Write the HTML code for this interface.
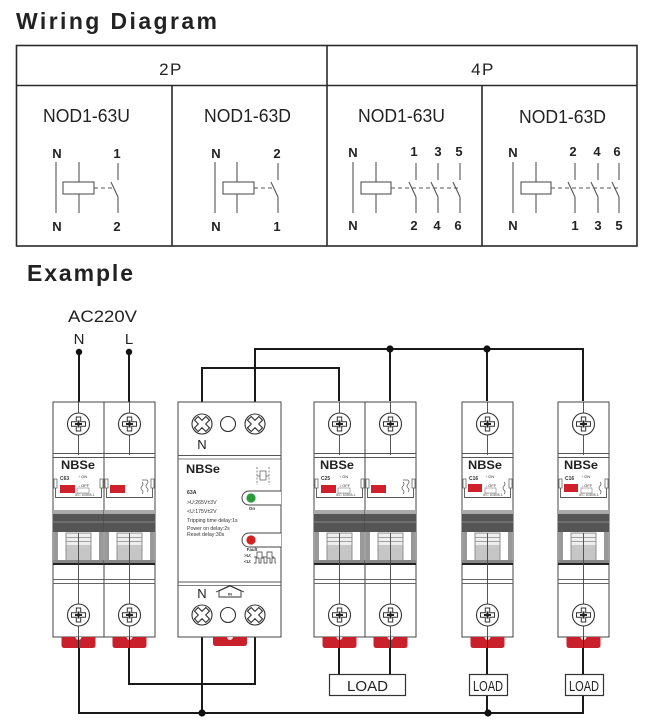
<!DOCTYPE html>
<html><head><meta charset="utf-8"><style>
html,body{margin:0;padding:0;background:#fff;}
body{width:650px;height:728px;overflow:hidden;}
svg{display:block;font-family:"Liberation Sans",Arial,sans-serif;}
</style></head><body>
<svg width="650" height="728" viewBox="0 0 650 728" xmlns="http://www.w3.org/2000/svg">
<rect width="650" height="728" fill="#fff"/>
<defs>
  <g id="pscrew">
    <circle cx="0" cy="0" r="11" fill="#fff" stroke="#333" stroke-width="1.1"/>
    <path d="M-7,-2.2 H-2.2 V-7 H2.2 V-2.2 H7 V2.2 H2.2 V7 H-2.2 V2.2 H-7 Z" fill="#fff" stroke="#333" stroke-width="1"/>
    <rect x="-3.5" y="-1" width="7" height="2" fill="#222"/>
    <rect x="-1" y="-3.5" width="2" height="7" fill="#222"/>
  </g>
  <g id="xscrew">
    <circle cx="0" cy="0" r="10" fill="#fff" stroke="#333" stroke-width="1.1"/>
    <path transform="rotate(45)" d="M-8,-2.6 H-2.6 V-8 H2.6 V-2.6 H8 V2.6 H2.6 V8 H-2.6 V2.6 H-8 Z" fill="#fff" stroke="#333" stroke-width="1.1" stroke-linejoin="round"/>
  </g>
  <g id="pole">
    <rect x="0" y="402" width="51" height="235" fill="#fff" stroke="#444" stroke-width="1"/>
    <line x1="25.5" y1="402" x2="25.5" y2="455" stroke="#444" stroke-width="0.9"/>
    <line x1="0" y1="453.5" x2="51" y2="453.5" stroke="#555" stroke-width="1"/>
    <line x1="0" y1="457.5" x2="51" y2="457.5" stroke="#555" stroke-width="1"/>
    <path d="M2.5,481 V497.5 H48.5 V481" fill="none" stroke="#555" stroke-width="0.9"/>
    <rect x="1" y="479" width="3" height="9" fill="#fff" stroke="#555" stroke-width="0.7"/>
    <rect x="47" y="479" width="3" height="9" fill="#fff" stroke="#555" stroke-width="0.7"/>
    <rect x="0" y="510" width="51" height="4" fill="#aaa"/>
    <rect x="0" y="514" width="51" height="18" fill="#555"/>
    <line x1="0" y1="522" x2="51" y2="522" stroke="#888" stroke-width="1"/>
    <rect x="1" y="532" width="4" height="28" fill="#999"/>
    <rect x="46" y="532" width="4" height="28" fill="#999"/>
    <rect x="13" y="533" width="25" height="27" fill="#eee" stroke="#777" stroke-width="0.8"/>
    <rect x="13.5" y="545" width="24" height="15" fill="#c6c6c6"/>
    <line x1="13" y1="537.5" x2="38" y2="537.5" stroke="#888" stroke-width="0.8"/>
    <line x1="13" y1="541.5" x2="38" y2="541.5" stroke="#888" stroke-width="0.8"/>
    <rect x="0" y="560" width="51" height="3" fill="#888"/>
    <line x1="0" y1="564" x2="51" y2="564" stroke="#222" stroke-width="2"/>
    <line x1="0" y1="579.5" x2="51" y2="579.5" stroke="#666" stroke-width="1"/>
    <line x1="0" y1="583.5" x2="51" y2="583.5" stroke="#666" stroke-width="1"/>
    <line x1="25.5" y1="533" x2="25.5" y2="637" stroke="#444" stroke-width="0.9"/>
    <use href="#pscrew" x="25.5" y="424"/>
    <use href="#pscrew" x="25.5" y="615"/>
    <path d="M8.5,637 H42.5 V645 Q42.5,648 39.5,648 H11.5 Q8.5,648 8.5,645 Z" fill="#c9202c"/>
    <path d="M22.5,637 A3,3 0 0 0 28.5,637 Z" fill="#f2dede"/>
    <line x1="25.5" y1="637" x2="25.5" y2="648" stroke="#222" stroke-width="1"/>
  </g>
  <g id="lab1">
    <text x="8" y="469" font-size="12" font-weight="bold" fill="#222" textLength="34" lengthAdjust="spacingAndGlyphs">NBSe</text>
    <text x="7" y="480" font-size="5" font-weight="bold" fill="#333">C63</text>
    <rect x="7" y="485" width="15" height="8" fill="#d0202c"/>
    <text x="25" y="478" font-size="4" fill="#333">↑ ON</text>
    <text x="25" y="487" font-size="4" fill="#333">↓ OFF</text>
    <rect x="24" y="488" width="12" height="5" fill="none" stroke="#666" stroke-width="0.5"/>
    <text x="22" y="496" font-size="3.5" fill="#555">IEC 60898-1</text>
  </g>
  <g id="lab2">
    <rect x="6" y="485" width="15" height="8" fill="#d0202c"/>
    <path d="M38,482 q2,2 0,4 q-2,2 0,4 q2,2 0,4 M43,480 q2,2 0,4 q-2,2 0,4 q2,2 0,4 M38,480 h5" fill="none" stroke="#555" stroke-width="0.7"/>
  </g>
</defs>

<!-- Title -->
<text x="16" y="29" font-size="23" font-weight="bold" fill="#222" letter-spacing="2.4">Wiring Diagram</text>

<!-- Table -->
<g stroke="#2a2a2a" stroke-width="1.6" fill="none">
  <rect x="16.5" y="45.5" width="620.5" height="200.5"/>
  <line x1="16.5" y1="85.5" x2="637" y2="85.5"/>
  <line x1="327" y1="45.5" x2="327" y2="246"/>
  <line x1="172" y1="85.5" x2="172" y2="246"/>
  <line x1="482" y1="85.5" x2="482" y2="246"/>
</g>
<text x="171" y="75" font-size="17" fill="#222" text-anchor="middle" letter-spacing="1.5">2P</text>
<text x="483" y="75" font-size="17" fill="#222" text-anchor="middle" letter-spacing="1.5">4P</text>
<text x="43" y="122" font-size="18" fill="#222" textLength="87" lengthAdjust="spacingAndGlyphs">NOD1-63U</text>
<text x="204" y="122" font-size="18" fill="#222" textLength="87" lengthAdjust="spacingAndGlyphs">NOD1-63D</text>
<text x="358" y="122" font-size="18" fill="#222" textLength="87" lengthAdjust="spacingAndGlyphs">NOD1-63U</text>
<text x="519" y="123" font-size="18" fill="#222" textLength="87" lengthAdjust="spacingAndGlyphs">NOD1-63D</text>

<!-- Schematics -->
<g stroke="#555" stroke-width="1.1" fill="none">
  <!-- col1 -->
  <line x1="56" y1="162" x2="56" y2="213"/>
  <line x1="79" y1="162" x2="79" y2="213"/>
  <rect x="63" y="182" width="31" height="12" fill="#fff"/>
  <line x1="94" y1="188" x2="112" y2="188" stroke-dasharray="4 3"/>
  <line x1="118" y1="163" x2="118" y2="180"/>
  <line x1="111" y1="182" x2="118" y2="197"/>
  <line x1="118" y1="197" x2="118" y2="213"/>
  <!-- col2 -->
  <line x1="215" y1="162" x2="215" y2="213"/>
  <line x1="237" y1="162" x2="237" y2="213"/>
  <rect x="223" y="182" width="31" height="12" fill="#fff"/>
  <line x1="254" y1="188" x2="272" y2="188" stroke-dasharray="4 3"/>
  <line x1="278" y1="163" x2="278" y2="180"/>
  <line x1="271" y1="182" x2="278" y2="197"/>
  <line x1="278" y1="197" x2="278" y2="213"/>
  <!-- col3 -->
  <line x1="353" y1="162" x2="353" y2="213"/>
  <line x1="376" y1="162" x2="376" y2="213"/>
  <rect x="361" y="182" width="30" height="12" fill="#fff"/>
  <line x1="391" y1="188" x2="460" y2="188" stroke-dasharray="4 3"/>
  <line x1="416" y1="163" x2="416" y2="180"/><line x1="409" y1="182" x2="416" y2="197"/><line x1="416" y1="197" x2="416" y2="213"/>
  <line x1="438" y1="163" x2="438" y2="180"/><line x1="431" y1="182" x2="438" y2="197"/><line x1="438" y1="197" x2="438" y2="213"/>
  <line x1="460" y1="163" x2="460" y2="180"/><line x1="453" y1="182" x2="460" y2="197"/><line x1="460" y1="197" x2="460" y2="213"/>
  <!-- col4 -->
  <line x1="513" y1="162" x2="513" y2="213"/>
  <line x1="536" y1="162" x2="536" y2="213"/>
  <rect x="521" y="182" width="30" height="12" fill="#fff"/>
  <line x1="551" y1="188" x2="619" y2="188" stroke-dasharray="4 3"/>
  <line x1="575" y1="163" x2="575" y2="180"/><line x1="568" y1="182" x2="575" y2="197"/><line x1="575" y1="197" x2="575" y2="213"/>
  <line x1="598" y1="163" x2="598" y2="180"/><line x1="591" y1="182" x2="598" y2="197"/><line x1="598" y1="197" x2="598" y2="213"/>
  <line x1="619" y1="163" x2="619" y2="180"/><line x1="612" y1="182" x2="619" y2="197"/><line x1="619" y1="197" x2="619" y2="213"/>
</g>
<g font-size="13" font-weight="bold" fill="#222" text-anchor="middle">
  <text x="57" y="158">N</text><text x="117" y="158">1</text>
  <text x="57" y="231">N</text><text x="117" y="231">2</text>
  <text x="216" y="158">N</text><text x="277" y="158">2</text>
  <text x="216" y="231">N</text><text x="277" y="231">1</text>
  <text x="353" y="157">N</text><text x="414" y="156">1</text><text x="438" y="156">3</text><text x="459" y="156">5</text>
  <text x="353" y="230">N</text><text x="414" y="230">2</text><text x="437" y="230">4</text><text x="458" y="230">6</text>
  <text x="513" y="157">N</text><text x="573" y="156">2</text><text x="597" y="156">4</text><text x="617" y="156">6</text>
  <text x="513" y="230">N</text><text x="575" y="230">1</text><text x="598" y="230">3</text><text x="619" y="230">5</text>
</g>

<!-- Example -->
<text x="27" y="281" font-size="23" font-weight="bold" fill="#222" letter-spacing="1.9">Example</text>
<text x="68" y="322" font-size="17" fill="#222" textLength="69" lengthAdjust="spacingAndGlyphs">AC220V</text>
<text x="79" y="344" font-size="15" fill="#222" text-anchor="middle">N</text>
<text x="129" y="344" font-size="15" fill="#222" text-anchor="middle">L</text>

<!-- Wires -->
<g stroke="#1a1a1a" stroke-width="2" fill="none" stroke-linejoin="miter">
  <line x1="79" y1="352" x2="79" y2="402"/>
  <line x1="129" y1="352" x2="129" y2="402"/>
  <polyline points="202,402 202,368 339,368 339,401"/>
  <polyline points="255,402 255,349 583,349 583,401"/>
  <line x1="390" y1="349" x2="390" y2="401"/>
  <line x1="487" y1="349" x2="487" y2="401"/>
  <polyline points="79,647 79,713 583,713 583,695"/>
  <polyline points="129,647 129,684 255,684 255,637"/>
  <line x1="202" y1="637" x2="202" y2="713"/>
  <line x1="339" y1="647" x2="339" y2="674"/>
  <line x1="390" y1="647" x2="390" y2="674"/>
  <line x1="487" y1="647" x2="487" y2="674"/>
  <line x1="583" y1="647" x2="583" y2="674"/>
  <line x1="487" y1="695" x2="487" y2="713"/>
</g>
<g fill="#111">
  <circle cx="79" cy="352" r="3.2"/>
  <circle cx="129" cy="352" r="3.2"/>
  <circle cx="390" cy="349" r="3.6"/>
  <circle cx="487" cy="349" r="3.6"/>
  <circle cx="202" cy="713" r="3.6"/>
  <circle cx="488" cy="713" r="3.6"/>
</g>

<!-- Left 2P breaker -->
<use href="#pole" x="53" y="0"/>
<use href="#pole" x="104" y="0"/>
<use href="#lab1" x="53" y="0"/>
<use href="#lab2" x="104" y="0"/>

<!-- Right 2P breaker -->
<use href="#pole" x="314" y="0"/>
<use href="#pole" x="365" y="0"/>
<g transform="translate(314,0)">
  <text x="6" y="469" font-size="12" font-weight="bold" fill="#222" textLength="34" lengthAdjust="spacingAndGlyphs">NBSe</text>
  <text x="7" y="480" font-size="5" font-weight="bold" fill="#333">C25</text>
  <rect x="7" y="485" width="15" height="8" fill="#d0202c"/>
  <text x="25" y="478" font-size="4" fill="#333">↑ ON</text>
  <text x="25" y="487" font-size="4" fill="#333">↓ OFF</text>
  <rect x="24" y="488" width="12" height="5" fill="none" stroke="#666" stroke-width="0.5"/>
  <text x="22" y="496" font-size="3.5" fill="#555">IEC 60898-1</text>
</g>
<use href="#lab2" x="365" y="0"/>

<!-- 1P breakers -->
<use href="#pole" x="462" y="0"/>
<use href="#pole" x="558" y="0"/>
<g transform="translate(462,0)">
  <text x="6" y="469" font-size="12" font-weight="bold" fill="#222" textLength="34" lengthAdjust="spacingAndGlyphs">NBSe</text>
  <text x="7" y="480" font-size="5" font-weight="bold" fill="#333">C16</text>
  <rect x="6" y="484" width="14" height="8" fill="#d0202c"/>
  <text x="23" y="478" font-size="4" fill="#333">↑ ON</text>
  <text x="23" y="487" font-size="4" fill="#333">↓ OFF</text>
  <rect x="23" y="488" width="11" height="5" fill="none" stroke="#666" stroke-width="0.5"/>
  <text x="21" y="496" font-size="3.5" fill="#555">IEC 60898-1</text>
  <path d="M42,482 q2,2 0,4 q-2,2 0,4 q2,2 0,4" fill="none" stroke="#555" stroke-width="0.7"/>
</g>
<g transform="translate(558,0)">
  <text x="6" y="469" font-size="12" font-weight="bold" fill="#222" textLength="34" lengthAdjust="spacingAndGlyphs">NBSe</text>
  <text x="7" y="480" font-size="5" font-weight="bold" fill="#333">C16</text>
  <rect x="6" y="484" width="14" height="8" fill="#d0202c"/>
  <text x="23" y="478" font-size="4" fill="#333">↑ ON</text>
  <text x="23" y="487" font-size="4" fill="#333">↓ OFF</text>
  <rect x="23" y="488" width="11" height="5" fill="none" stroke="#666" stroke-width="0.5"/>
  <text x="21" y="496" font-size="3.5" fill="#555">IEC 60898-1</text>
  <path d="M42,482 q2,2 0,4 q-2,2 0,4 q2,2 0,4" fill="none" stroke="#555" stroke-width="0.7"/>
</g>

<!-- Time relay device -->
<rect x="178" y="402" width="103" height="235" fill="#fff" stroke="#444" stroke-width="1"/>
<line x1="178" y1="455.5" x2="281" y2="455.5" stroke="#555" stroke-width="1"/>
<line x1="178" y1="459" x2="281" y2="459" stroke="#555" stroke-width="0.8"/>
<line x1="178" y1="582" x2="281" y2="582" stroke="#555" stroke-width="1"/>
<line x1="178" y1="585.5" x2="281" y2="585.5" stroke="#555" stroke-width="0.8"/>
<use href="#xscrew" x="202" y="424"/>
<circle cx="228" cy="424" r="7.5" fill="#fff" stroke="#333" stroke-width="1.1"/>
<use href="#xscrew" x="255" y="424"/>
<text x="202" y="449" font-size="13" fill="#222" text-anchor="middle">N</text>
<text x="186" y="473" font-size="12" font-weight="bold" fill="#222" textLength="34" lengthAdjust="spacingAndGlyphs">NBSe</text>
<g stroke="#555" stroke-width="0.7" fill="none">
  <line x1="257" y1="467" x2="257" y2="485" stroke-dasharray="2 1.5"/>
  <line x1="269" y1="467" x2="269" y2="485" stroke-dasharray="2 1.5"/>
  <rect x="260" y="471" width="6" height="9"/>
  <line x1="257" y1="476" x2="260" y2="476"/>
  <line x1="266" y1="476" x2="269" y2="476"/>
</g>
<g font-size="5.2" fill="#333">
  <text x="187" y="494" font-weight="bold">63A</text>
  <text x="187" y="504">&gt;U:265V±3V</text>
  <text x="187" y="513">&lt;U:175V±2V</text>
  <text x="187" y="522">Tripping time delay:1s</text>
  <text x="187" y="530">Power on delay:2s</text>
  <text x="187" y="536">Reset delay:30s</text>
</g>
<path d="M281,491 H249 A7,7 0 0 0 249,505 H281" fill="#fff" stroke="#444" stroke-width="1"/>
<circle cx="251" cy="498" r="4.6" fill="#2a9a3a"/>
<text x="252" y="510" font-size="4.5" font-weight="bold" fill="#333" text-anchor="middle">On</text>
<path d="M281,533 H249 A7,7 0 0 0 249,547 H281" fill="#fff" stroke="#444" stroke-width="1"/>
<circle cx="251" cy="540" r="4.6" fill="#d42020"/>
<text x="252" y="551" font-size="4.5" font-weight="bold" fill="#333" text-anchor="middle">Fault</text>
<text x="244" y="557" font-size="4.5" font-weight="bold" fill="#333">&gt;U:</text>
<text x="244" y="563" font-size="4.5" font-weight="bold" fill="#333">&lt;U:</text>
<path d="M254,557 h3 v-5 h5 v5 h5 v-5 h5 v5 h2" fill="none" stroke="#333" stroke-width="0.7"/>
<path d="M254,563 h2 v-5 h3 v5 h2 v-5 h3 v5 h3 v-5 h3 v5 h2 v-5 h3 v5 h1" fill="none" stroke="#333" stroke-width="0.7"/>
<text x="202" y="598" font-size="13" fill="#222" text-anchor="middle">N</text>
<path d="M219,597 V591 L230,586 L241,591 V597 Z" fill="#fff" stroke="#333" stroke-width="0.9"/>
<path d="M216,592 L230,585.5 L244,592" fill="none" stroke="#333" stroke-width="0.9"/>
<text x="230" y="595.5" font-size="4" font-weight="bold" fill="#333" text-anchor="middle">IN</text>
<use href="#xscrew" x="202" y="615"/>
<circle cx="228" cy="615" r="7.5" fill="#fff" stroke="#333" stroke-width="1.1"/>
<use href="#xscrew" x="255" y="615"/>
<path d="M213,637 H247 V643 Q247,646 244,646 H216 Q213,646 213,643 Z" fill="#c9202c"/>
<path d="M227,637 A3,3 0 0 0 233,637 Z" fill="#f2dede"/>

<!-- LOAD boxes -->
<g fill="#fff" stroke="#333" stroke-width="1.2">
  <rect x="329.5" y="674.5" width="76" height="21"/>
  <rect x="469.5" y="674.5" width="38" height="21"/>
  <rect x="565.5" y="674.5" width="38" height="21"/>
</g>
<g font-size="15" fill="#222">
  <text x="347" y="691" textLength="41" lengthAdjust="spacingAndGlyphs">LOAD</text>
  <text x="473" y="691" textLength="30" lengthAdjust="spacingAndGlyphs">LOAD</text>
  <text x="569" y="691" textLength="30" lengthAdjust="spacingAndGlyphs">LOAD</text>
</g>
</svg>
</body></html>
